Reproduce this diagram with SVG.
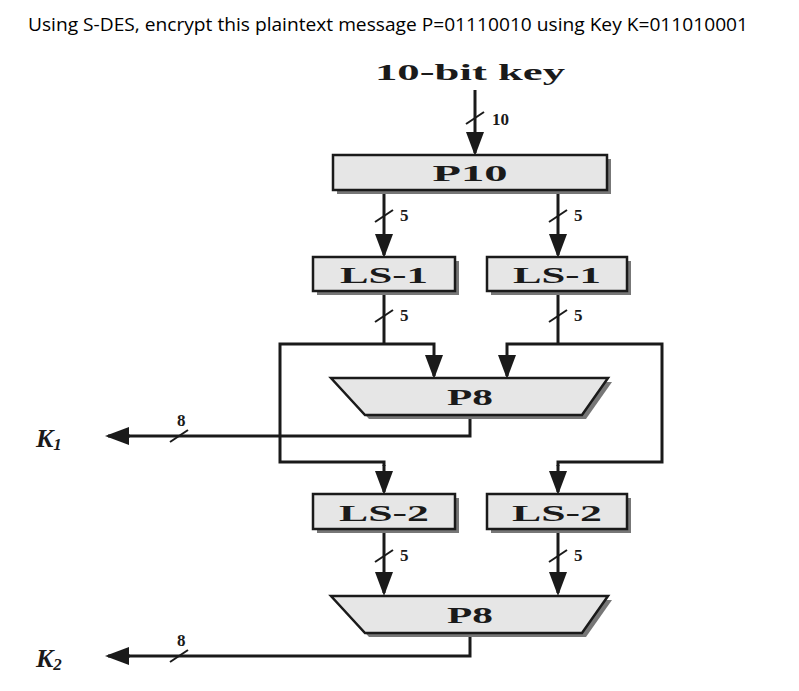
<svg xmlns="http://www.w3.org/2000/svg" width="799" height="691" viewBox="0 0 799 691">
<style>
.ln{fill:none;stroke:#1a1a1a;stroke-width:3}
.th{fill:none;stroke:#1a1a1a;stroke-width:2}
.box{fill:#e6e6e6;stroke:#1a1a1a;stroke-width:2.5}
.sh{fill:#777}
.lbl{font-family:"Liberation Serif",serif;font-weight:bold;font-size:24px;fill:#1a1a1a;text-anchor:middle}
.num{font-family:"Liberation Serif",serif;font-weight:bold;font-size:17px;fill:#1a1a1a}
.k{font-family:"Liberation Serif",serif;font-weight:bold;font-style:italic;font-size:26px;fill:#1a1a1a}
</style>
<defs>
<marker id="ah" markerWidth="8" markerHeight="6" refX="7" refY="3" orient="auto" markerUnits="strokeWidth"><path d="M0,0 L8,3 L0,6 Z" fill="#1a1a1a"/></marker>
</defs>
<text x="28" y="31" font-family="Open Sans, Liberation Sans, sans-serif" font-size="18" fill="#000" textLength="720" lengthAdjust="spacingAndGlyphs">Using S-DES, encrypt this plaintext message P=01110010 using Key K=011010001</text>
<text x="470" y="80" class="lbl" textLength="190" lengthAdjust="spacingAndGlyphs">10-bit key</text>
<g id="connectors">
<line class="ln" x1="475" y1="90" x2="475" y2="153" marker-end="url(#ah)"/>
<line class="th" x1="466" y1="124" x2="484" y2="112"/><text class="num" x="492" y="125">10</text>
<line class="ln" x1="384" y1="191" x2="384" y2="255" marker-end="url(#ah)"/>
<line class="th" x1="375" y1="222" x2="393" y2="210"/><text class="num" x="400" y="221">5</text>
<line class="ln" x1="558" y1="191" x2="558" y2="255" marker-end="url(#ah)"/>
<line class="th" x1="549" y1="222" x2="567" y2="210"/><text class="num" x="574" y="221">5</text>
<line class="ln" x1="384" y1="291" x2="384" y2="344"/>
<line class="th" x1="375" y1="322" x2="393" y2="310"/><text class="num" x="400" y="321">5</text>
<line class="ln" x1="558" y1="291" x2="558" y2="344"/>
<line class="th" x1="549" y1="322" x2="567" y2="310"/><text class="num" x="574" y="321">5</text>
<polyline class="ln" points="434,350 434,344 280,344 280,462 384,462 384,466"/>
<line class="ln" x1="434" y1="350" x2="434" y2="376" marker-end="url(#ah)"/>
<line class="ln" x1="384" y1="465" x2="384" y2="492" marker-end="url(#ah)"/>
<polyline class="ln" points="507,350 507,344 662,344 662,462 558,462 558,466"/>
<line class="ln" x1="507" y1="350" x2="507" y2="376" marker-end="url(#ah)"/>
<line class="ln" x1="558" y1="465" x2="558" y2="492" marker-end="url(#ah)"/>
<polyline class="ln" points="470,415 470,436 128,436"/>
<line class="ln" x1="130" y1="436" x2="108" y2="436" marker-end="url(#ah)"/>
<line class="th" x1="170" y1="442" x2="188" y2="430"/><text class="num" x="177" y="426">8</text>
<line class="ln" x1="384" y1="529" x2="384" y2="593" marker-end="url(#ah)"/>
<line class="th" x1="375" y1="562" x2="393" y2="550"/><text class="num" x="400" y="561">5</text>
<line class="ln" x1="558" y1="529" x2="558" y2="593" marker-end="url(#ah)"/>
<line class="th" x1="549" y1="562" x2="567" y2="550"/><text class="num" x="574" y="561">5</text>
<polyline class="ln" points="470,633 470,656 128,656"/>
<line class="ln" x1="130" y1="656" x2="108" y2="656" marker-end="url(#ah)"/>
<line class="th" x1="170" y1="662" x2="188" y2="650"/><text class="num" x="177" y="646">8</text>
</g>
<g id="p10"><rect class="sh" x="337" y="159" width="274" height="35"/><rect class="box" x="333" y="155" width="274" height="35"/><text class="lbl" x="470" y="181" textLength="75" lengthAdjust="spacingAndGlyphs">P10</text></g>
<g id="ls1a"><rect class="sh" x="317" y="261" width="142" height="34"/><rect class="box" x="313" y="257" width="142" height="34"/><text class="lbl" x="384" y="283" textLength="88" lengthAdjust="spacingAndGlyphs">LS-1</text></g>
<g id="ls1b"><rect class="sh" x="491" y="261" width="140" height="34"/><rect class="box" x="487" y="257" width="140" height="34"/><text class="lbl" x="557" y="283" textLength="88" lengthAdjust="spacingAndGlyphs">LS-1</text></g>
<g id="p8a"><polygon class="sh" points="335,382 612,382 586,419 369,419"/><polygon class="box" points="331,378 608,378 582,415 365,415"/><text class="lbl" x="470" y="405" textLength="46" lengthAdjust="spacingAndGlyphs">P8</text></g>
<g id="ls2a"><rect class="sh" x="317" y="498" width="142" height="35"/><rect class="box" x="313" y="494" width="142" height="35"/><text class="lbl" x="384" y="521" textLength="90" lengthAdjust="spacingAndGlyphs">LS-2</text></g>
<g id="ls2b"><rect class="sh" x="491" y="498" width="140" height="35"/><rect class="box" x="487" y="494" width="140" height="35"/><text class="lbl" x="557" y="521" textLength="90" lengthAdjust="spacingAndGlyphs">LS-2</text></g>
<g id="p8b"><polygon class="sh" points="335,600 612,600 586,637 369,637"/><polygon class="box" points="331,596 608,596 582,633 365,633"/><text class="lbl" x="470" y="623" textLength="46" lengthAdjust="spacingAndGlyphs">P8</text></g>
<g id="k1"><text class="k" x="36" y="447">K<tspan font-size="17" dy="3">1</tspan></text></g>
<g id="k2"><text class="k" x="36" y="667">K<tspan font-size="17" dy="3">2</tspan></text></g>
</svg>
